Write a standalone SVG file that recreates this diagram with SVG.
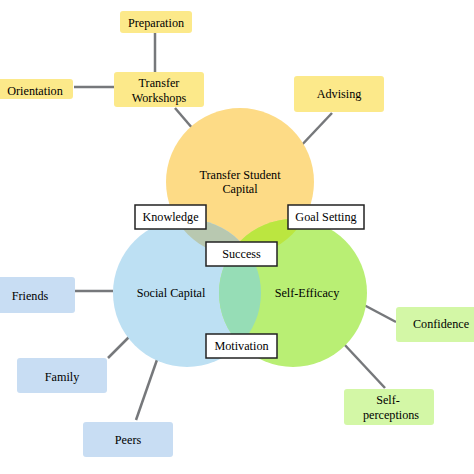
<svg xmlns="http://www.w3.org/2000/svg" width="474" height="474" viewBox="0 0 474 474" font-family="Liberation Serif, Times New Roman, DejaVu Serif, serif">
<defs>
<style>
text{font-family:"Liberation Serif","DejaVu Serif",serif}
.t{font-size:12.2px;fill:#000;text-anchor:middle}
.y{fill:#FCE98A}
.b{fill:#C8DDF3}
.g{fill:#D3F7A6}
.lbl{fill:#fff;stroke:#222;stroke-width:1.5}
.c{stroke:#76787B;stroke-width:2.5;fill:none}
</style>
<clipPath id="cy"><circle cx="240" cy="182" r="74"/></clipPath>
<clipPath id="cb"><circle cx="187" cy="293" r="74"/></clipPath>
</defs>
<rect width="474" height="474" fill="#fff"/>
<g id="connectors">
<line class="c" x1="155" y1="33" x2="155" y2="72"/>
<line class="c" x1="74" y1="87" x2="114" y2="87"/>
<line class="c" x1="175" y1="108" x2="199" y2="136"/>
<line class="c" x1="332" y1="113" x2="298" y2="149"/>
<line class="c" x1="75" y1="291" x2="113" y2="291"/>
<line class="c" x1="108" y1="358" x2="130" y2="336"/>
<line class="c" x1="136" y1="420" x2="159" y2="354"/>
<line class="c" x1="364" y1="305" x2="396" y2="322"/>
<line class="c" x1="343" y1="343" x2="385" y2="388"/>
</g>
<g id="venn">
<circle cx="240" cy="182" r="74" fill="#FDDB86"/>
<circle cx="187" cy="293" r="74" fill="#BDE0F3"/>
<circle cx="293" cy="293" r="74" fill="#B9EF74"/>
<circle cx="187" cy="293" r="74" fill="#B8C8B0" clip-path="url(#cy)"/>
<circle cx="293" cy="293" r="74" fill="#BBE640" clip-path="url(#cy)"/>
<g clip-path="url(#cb)"><circle cx="293" cy="293" r="74" fill="#96DDB6"/></g>
<g clip-path="url(#cy)"><g clip-path="url(#cb)"><circle cx="293" cy="293" r="74" fill="#A9D59A"/></g></g>
<text class="t" x="240" y="179">Transfer Student</text>
<text class="t" x="240" y="193">Capital</text>
<text class="t" x="171" y="297">Social Capital</text>
<text class="t" x="307" y="297">Self-Efficacy</text>
</g>
<g id="knowledge"><rect class="lbl" x="135" y="205" width="71" height="24"/><text class="t" x="170.5" y="221">Knowledge</text></g>
<g id="goal-setting"><rect class="lbl" x="288" y="205" width="76" height="24"/><text class="t" x="326" y="221">Goal Setting</text></g>
<g id="success"><rect class="lbl" x="206" y="242" width="71" height="24"/><text class="t" x="241.5" y="258">Success</text></g>
<g id="motivation"><rect class="lbl" x="206" y="334" width="71" height="24"/><text class="t" x="241.5" y="350">Motivation</text></g>
<g id="preparation"><rect class="y" x="120" y="11" width="72" height="22" rx="3"/><text class="t" x="156" y="27">Preparation</text></g>
<g id="transfer-workshops"><rect class="y" x="114" y="72" width="90" height="35" rx="3"/><text class="t" x="159" y="87">Transfer</text><text class="t" x="159" y="102">Workshops</text></g>
<g id="orientation"><rect class="y" x="-3" y="79" width="76" height="20" rx="3"/><text class="t" x="35" y="95">Orientation</text></g>
<g id="advising"><rect class="y" x="294" y="76" width="90" height="36" rx="3"/><text class="t" x="339" y="98">Advising</text></g>
<g id="friends"><rect class="b" x="-3" y="277" width="78" height="36" rx="3"/><text class="t" x="30" y="300">Friends</text></g>
<g id="family"><rect class="b" x="17" y="358" width="90" height="35" rx="3"/><text class="t" x="62" y="381">Family</text></g>
<g id="peers"><rect class="b" x="83" y="422" width="90" height="35" rx="3"/><text class="t" x="128" y="444">Peers</text></g>
<g id="confidence"><rect class="g" x="396" y="307" width="81" height="35" rx="3"/><text class="t" x="441" y="328">Confidence</text></g>
<g id="self-perceptions"><rect class="g" x="344" y="389" width="90" height="36" rx="3"/><text class="t" x="388" y="404">Self-</text><text class="t" x="391" y="419">perceptions</text></g>
</svg>
